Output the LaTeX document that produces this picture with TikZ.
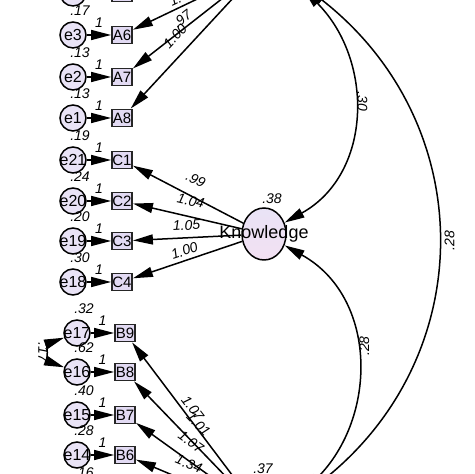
\documentclass[tikz,border=0pt]{standalone}
\usepackage{fontspec}
\setmainfont{Liberation Sans}
\usepackage{xcolor}
\usetikzlibrary{arrows.meta,shapes.geometric}

\definecolor{lav}{RGB}{233,227,246}
\definecolor{lavbox}{RGB}{226,218,243}
\definecolor{pinklav}{RGB}{242,224,242}

\tikzset{
	err/.style={circle,draw,line width=0.75pt,fill=lav,minimum size=13pt,inner sep=0pt},
	obs/.style={rectangle,draw=black!85,line width=0.9pt,fill=lavbox,minimum width=10pt,minimum height=8.5pt,inner sep=0pt,font=\fontsize{7.5}{8}\selectfont},
	lat/.style={ellipse,draw,line width=0.75pt,inner sep=0pt},
	elab/.style={font=\fontsize{8}{9}\selectfont,inner sep=0pt},
	est/.style={font=\fontsize{7}{8}\selectfont\itshape,inner sep=1.5pt},
	reg/.style={line width=0.75pt,-{Triangle[length=10pt,width=5pt]}},
	cov/.style={line width=0.75pt,{Triangle[length=10pt,width=5pt]}-{Triangle[length=10pt,width=5pt]}}
}

\begin{document}
\begin{tikzpicture}[x=0.5pt,y=0.5pt]
	\useasboundingbox (0,0) rectangle (474,474);
	\clip (0,0) rectangle (474,474);
	
	\node[lat,minimum width=60pt,minimum height=28pt] (ftop) at (260,505) {};
	\node[lat,minimum width=60pt,minimum height=28pt,label={[est,label distance=3pt,xshift=1.5pt]above:.37}] (fbot) at (260,-38) {};
	\node[lat,minimum width=22pt,minimum height=26pt,top color=lav,bottom color=pinklav,label={[font=\fontsize{9}{10}\selectfont]center:Knowledge},label={[est,xshift=4pt]above:.38}] (know) at (264,240) {};
	
	\node[err,label={[elab]center:e4}] (e4) at (73,481) {};
	\node[obs] (A5) at (122,481) {A5};
	\draw[reg] (e4) -- (A5);
	
	\foreach \e/\b/\y/\v in {e3/A6/439/.17, e2/A7/397/.13, e1/A8/356/.13, e21/C1/314/.19, e20/C2/273/.24, e19/C3/233/.20, e18/C4/192/.30}{
		\node[err,label={[elab]center:\e},label={[est,label distance=1pt,xshift=3.5pt]above:\v}] (\e) at (73,\y) {};
		\node[obs] (\b) at (122,\y) {\b};
		\draw[reg] (\e) -- node[est,above=2pt]{1} (\b);
	}
	
	\foreach \e/\b/\y/\v in {e17/B9/141/.32, e16/B8/102/.62, e15/B7/59/.40, e14/B6/19/.28, e13/B5/-23/.16}{
		\node[err,label={[elab]center:\e},label={[est,label distance=1pt,xshift=3.5pt]above:\v}] (\e) at (77,\y) {};
		\node[obs] (\b) at (125,\y) {\b};
		\draw[reg] (\e) -- node[est,above=2pt]{1} (\b);
	}
	
	\draw[reg] (ftop) -- (A5);
	\draw[reg] (ftop) -- node[est,sloped,above,pos=.37]{1.02} (A6);
	\draw[reg] (ftop) -- node[est,sloped,above,pos=.43]{.97} (A7);
	\draw[reg] (ftop) -- node[est,sloped,above=4pt,pos=.46]{1.00} (A8);
	
	\draw[reg] (know) -- node[est,sloped,above=4pt,pos=.5]{.99} (C1);
	\draw[reg] (know) -- node[est,sloped,above=3.5pt,pos=.5]{1.04} (C2);
	\draw[reg] (know) -- node[est,sloped,above=2pt,pos=.5]{1.05} (C3);
	\draw[reg] (know) -- node[est,sloped,above=0.5pt,pos=.5]{1.00} (C4);
	
	\draw[reg] (fbot) -- node[est,sloped,above,pos=.5]{1.07} (B9);
	\draw[reg] (fbot) -- node[est,sloped,above=4pt,pos=.48]{1.01} (B8);
	\draw[reg] (fbot) -- node[est,sloped,above=4pt,pos=.5]{1.07} (B7);
	\draw[reg] (fbot) -- node[est,sloped,above=4pt,pos=.41]{1.34} (B6);
	\draw[reg] (fbot) -- (B5);
	
	\draw[cov] (ftop.-25) to[out=-45,in=29,looseness=1.1] node[est,rotate=-90,anchor=south,pos=.45]{.30} (know);
	\draw[cov] (fbot.25) to[out=45,in=-29,looseness=1.1] node[est,rotate=90,anchor=north,pos=.55]{.28} (know);
	\draw[cov] (ftop.-22) to[out=-38,in=38,looseness=1.12] node[est,rotate=90,anchor=north,inner sep=3.5pt]{.28} (fbot.22);
	\draw[cov] (e17) to[out=200,in=160,looseness=1.5] node[est,rotate=-90,anchor=north]{.17} (e16);
\end{tikzpicture}
\end{document}
